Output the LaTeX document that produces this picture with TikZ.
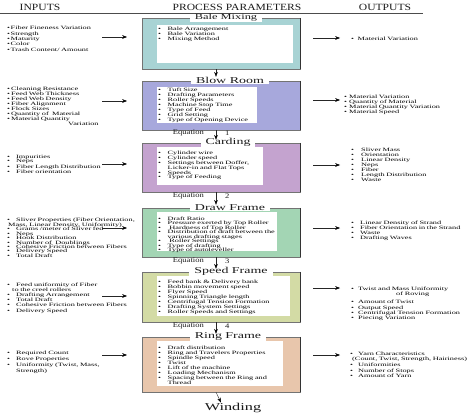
\documentclass[tikz,border=0pt]{standalone}
\usepackage{fontspec}
\setmainfont{Liberation Serif}
\newfontfamily\listfont[FakeStretch=1.66]{Liberation Serif}
\newfontfamily\headfont[FakeStretch=1.22]{Liberation Serif}
\newfontfamily\titlefont[FakeStretch=1.55]{Liberation Serif}
\usepackage{tikz}
\usetikzlibrary{arrows.meta}

\definecolor{balecol}{HTML}{A8D3D4}
\definecolor{blowcol}{HTML}{A7A8DC}
\definecolor{cardcol}{HTML}{C4A3CF}
\definecolor{drawcol}{HTML}{A3D5B4}
\definecolor{speedcol}{HTML}{D3DBA5}
\definecolor{ringcol}{HTML}{E8C6AC}

\newcommand{\itm}[2][9.5pt]{\makebox[#1][l]{\textbullet}#2}
\newcommand{\cnt}[2][9.5pt]{\hspace*{#1}#2}

\begin{document}
\begin{tikzpicture}[x=1pt,y=-1pt]
        \useasboundingbox (0,0) rectangle (474,417);
        \begin{scope}[
            >={Stealth[black]},
            hdr/.style={font=\headfont\fontsize{9.5}{11}\selectfont,text=black!90,inner sep=0},
            stagebox/.style={draw=black!55,minimum width=158,minimum height=#1,inner sep=0,
                append after command={(\tikzlastnode.north east) edge[draw=black!80,line width=1.3pt] (\tikzlastnode.south east)}},
            innerbox/.style 2 args={fill=white,anchor=north west,inner sep=0,minimum width=#1,minimum height=#2},
            stitle/.style={fill=white,inner xsep=5pt,inner ysep=0.5pt,text=black!90,
                font=\titlefont\fontsize{9}{10}\selectfont},
            lst/.style={anchor=base west,inner sep=0,text width=170,align=left,text=black,
                font={\listfont\fontsize{5}{#1}\selectfont\lineskiplimit=-10pt}},
            lst/.default=5,
            eq/.style={font=\headfont\fontsize{7}{8}\selectfont,text=black!90,inner sep=0},
            every edge/.style={draw=black!85,thin}
            ]
            \node[hdr] (inH) at (40,7) {INPUTS};
            \node[hdr] (parH) at (237,7) {PROCESS PARAMETERS};
            \node[hdr] (outH) at (385,7) {OUTPUTS};
            \draw[black!70] (0,13.5) -- (423,13.5);

            \node[stagebox=51, fill=balecol] (bale) at (221,43.5) {};
            \node[stagebox=49, fill=blowcol] (blow) at (221,105.5) {};
            \node[stagebox=49, fill=cardcol] (card) at (221,167.5) {};
            \node[stagebox=49, fill=drawcol] (draw) at (221,232.5) {};
            \node[stagebox=50, fill=speedcol] (speed) at (221,297) {};
            \node[stagebox=55, fill=ringcol] (ring) at (221,364.5) {};

            \node[innerbox={136}{38}] (baleW) at (157,25) {};
            \node[innerbox={100}{36}] (blowW) at (157,87) {};
            \node[innerbox={106}{38}] (cardW) at (157,147) {};
            \node[innerbox={120}{39}] (drawW) at (157,212) {};
            \node[innerbox={133}{40}] (speedW) at (157,276) {};
            \node[innerbox={126}{45}] (ringW) at (157,341) {};

            \node[stitle, font=\titlefont\fontsize{8}{9}\selectfont] (baleT) at ([xshift=5pt]bale.north) {Bale Mixing};
            \node[stitle] (blowT) at ([xshift=9pt]blow.north) {Blow Room};
            \node[stitle] (cardT) at ([xshift=7pt]card.north) {Carding};
            \node[stitle] (drawT) at ([xshift=9pt]draw.north) {Draw Frame};
            \node[stitle] (speedT) at ([xshift=10pt]speed.north) {Speed Frame};
            \node[stitle] (ringT) at ([xshift=7pt]ring.north) {Ring Frame};
            \node[stitle, fill=none, font=\titlefont\fontsize{10.5}{12}\selectfont] (wind) at (233,408) {Winding};

            \node[lst=5.3] (baleI) at (7,30) {\itm[3.5pt]{Fiber Fineness Variation}\\
                \itm[3.5pt]{Strength}\\ \itm[3.5pt]{Maturity}\\ \itm[3.5pt]{Color}\\
                \itm[3.5pt]{Trash Content/ Amount}};
            \node[lst] (baleP) at (158,31) {\itm{Bale Arrangement}\\ \itm{Bale Variation}\\
                \itm{Mixing Method}};
            \node[lst] (baleO) at (351,41) {\itm[6.5pt]{Material Variation}};

            \node[lst] (blowI) at (7,91) {\itm[4pt]{Cleaning Resistance}\\ \itm[4pt]{Feed Web Thickness}\\
                \itm[4pt]{Feed Web Density}\\ \itm[4pt]{Fiber Alignment}\\ \itm[4pt]{Flock Sizes}\\
                \itm[4pt]{Quantity of\ \ Material}\\ \itm[4pt]{Material Quantity}\\ \cnt[61pt]{Variation}};
            \node[lst] (blowP) at (158,92) {\itm{Tuft Size}\\ \itm{Drafting Parameters}\\
                \itm{Roller Speeds}\\ \itm{Machine Stop Time}\\ \itm{Type of Feed}\\
                \itm{Grid Setting}\\ \itm{Type of Opening Device}};
            \node[lst] (blowO) at (344,99) {\itm[5pt]{Material Variation}\\ \itm[5pt]{Quantity of Material}\\
                \itm[5pt]{Material Quantity Variation}\\ \itm[5pt]{Material Speed}};

            \node[lst] (cardI) at (7,158) {\itm[9pt]{Impurities}\\ \itm[9pt]{Neps}\\
                \itm[9pt]{Fiber Length Distribution}\\ \itm[9pt]{Fiber orientation}};
            \node[lst=4.8] (cardP) at (158,155) {\itm{Cylinder wire}\\ \itm{Cylinder speed}\\
                \itm{Settings between Doffer,}\\ \cnt{Licker-in and Flat Tops}\\ \itm{Speeds}\\
                \itm{Type of Feeding}};
            \node[lst] (cardO) at (351,152) {\itm[10pt]{Sliver Mass}\\ \itm[10pt]{Orientation}\\
                \itm[10pt]{Linear Density}\\ \itm[10pt]{Neps}\\ \itm[10pt]{Fiber}\\
                \itm[10pt]{Length Distribution}\\ \itm[10pt]{Waste}};

            \node[lst=4.4] (drawI) at (7,222) {\itm[9pt]{Sliver Properties (Fiber Orientation,}\\
                \cnt[1pt]{Mass, Linear Density, Uniformity)}\\ \itm[9pt]{Grams /meter of Sliver fed}\\
                \itm[9pt]{Neps}\\ \itm[9pt]{Hook Distribution}\\ \itm[9pt]{Number of\ \ Doublings}\\
                \itm[9pt]{Cohesive Friction between Fibers}\\ \itm[9pt]{Delivery Speed}\\ \itm[9pt]{Total Draft}};
            \node[lst=4.5] (drawP) at (158,220) {\itm{Draft Ratio}\\ \itm{Pressure exerted by Top Roller}\\
                \itm{\ Hardness of Top Roller}\\ \itm{Distribution of draft between the}\\
                \cnt{various drafting stages}\\ \itm{\ Roller Settings}\\ \itm{Type of drafting}\\
                \itm{Type of autoleveller}};
            \node[lst] (drawO) at (351,224) {\itm[9pt]{Linear Density of Strand}\\
                \itm[9pt]{Fiber Orientation in the Strand}\\ \itm[9pt]{Waste}\\ \itm[9pt]{Drafting Waves}};

            \node[lst=5.2] (speedI) at (7,286) {\itm[9pt]{Feed uniformity of Fiber}\\
                \cnt[5pt]{to the creel rollers}\\ \itm[9pt]{Drafting Arrangement}\\ \itm[9pt]{Total Draft}\\
                \itm[9pt]{Cohesive Friction between Fibers}\\ \itm[9pt]{Delivery Speed}};
            \node[lst=5.1] (speedP) at (158,283) {\itm{Feed bank \& Delivery bank}\\ \itm{Bobbin movement speed}\\
                \itm{Flyer Speed}\\ \itm{Spinning Triangle length}\\ \itm{Centrifugal Tension Formation}\\
                \itm{Drafting System Settings}\\ \itm{Roller Speeds and Settings}};
            \node[lst=5.2] (speedO) at (351,290) {\itm[7pt]{Twist and Mass Uniformity}\\
                \cnt[45pt]{of Roving}\\[3.5pt] \itm[7pt]{Amount of Twist}\\ \itm[7pt]{Output Speed}\\
                \itm[7pt]{Centrifugal Tension Formation}\\ \itm[7pt]{Piecing Variation}};

            \node[lst=6] (ringI) at (7,354) {\itm[9pt]{Required Count}\\ \itm[9pt]{Rove Properties}\\
                \itm[9pt]{Uniformity (Twist, Mass,}\\ \cnt[9pt]{Strength)}};
            \node[lst=5.1] (ringP) at (158,349) {\itm{Draft distribution}\\ \itm{Ring and Travelers Properties}\\
                \itm{Spindle Speed}\\ \itm{Twist}\\ \itm{Lift of the machine}\\ \itm{Loading Mechanism}\\
                \itm{Spacing between the Ring and}\\ \cnt{Thread}};
            \node[lst=5.7] (ringO) at (350,355) {\itm[8pt]{Yarn Characteristics}\\
                \cnt[2pt]{(Count, Twist, Strength, Hairiness)}\\ \itm[8pt]{Uniformities}\\
                \itm[8pt]{Number of Stops}\\ \itm[8pt]{Amount of Yarn}};

            \coordinate (baleL) at (102,37);   \coordinate (baleLe) at (127,37);
            \coordinate (blowL) at (102,101);  \coordinate (blowLe) at (127,101);
            \coordinate (cardL) at (102,164);  \coordinate (cardLe) at (127,164);
            \coordinate (drawL) at (102,228);  \coordinate (drawLe) at (127,228);
            \coordinate (speedL) at (102,296); \coordinate (speedLe) at (127,296);
            \coordinate (ringL) at (102,355);  \coordinate (ringLe) at (127,355);
            \coordinate (baleR) at (313,38);   \coordinate (baleRe) at (340,38);
            \coordinate (blowR) at (313,100);  \coordinate (blowRe) at (340,100);
            \coordinate (cardR) at (313,165);  \coordinate (cardRe) at (340,165);
            \coordinate (drawR) at (313,228);  \coordinate (drawRe) at (340,228);
            \coordinate (speedR) at (313,288); \coordinate (speedRe) at (340,288);
            \coordinate (ringR) at (313,355);  \coordinate (ringRe) at (340,355);

            \path [->] (baleL) edge (baleLe);
            \path [->] (blowL) edge (blowLe);
            \path [->] (cardL) edge (cardLe);
            \path [->] (drawL) edge (drawLe);
            \path [->] (speedL) edge (speedLe);
            \path [->] (ringL) edge (ringLe);
            \path [->] (baleR) edge (baleRe);
            \path [->] (blowR) edge (blowRe);
            \path [->] (cardR) edge (cardRe);
            \path [->] (drawR) edge (drawRe);
            \path [->] (speedR) edge (speedRe);
            \path [->] (ringR) edge (ringRe);

            \path [->] ([xshift=-5pt]bale.south) edge[shorten >=4pt] ([xshift=-5pt]blow.north);
            \path [->] ([xshift=-5pt]blow.south) edge[shorten >=3pt] node[eq,pos=0.25,left=12pt] {Equation}
                node[eq,pos=0.25,right=9pt] {1} ([xshift=-5pt]card.north);
            \path [->] ([xshift=-5pt]card.south) edge[shorten >=3pt] node[eq,pos=0.25,left=12pt] {Equation}
                node[eq,pos=0.25,right=9pt] {2} ([xshift=-5pt]draw.north);
            \path [->] ([xshift=-5pt]draw.south) edge[shorten >=3pt] node[eq,pos=0.25,left=12pt] {Equation}
                node[eq,pos=0.25,right=9pt] {3} ([xshift=-5pt]speed.north);
            \path [->] ([xshift=-5pt]speed.south) edge[shorten >=3pt] node[eq,pos=0.25,left=12pt] {Equation}
                node[eq,pos=0.25,right=9pt] {4} ([xshift=-5pt]ring.north);
            \path [->] ([xshift=-5pt]ring.south) edge (wind.north -| ring.south);
        \end{scope}
    \end{tikzpicture}
\end{document}
